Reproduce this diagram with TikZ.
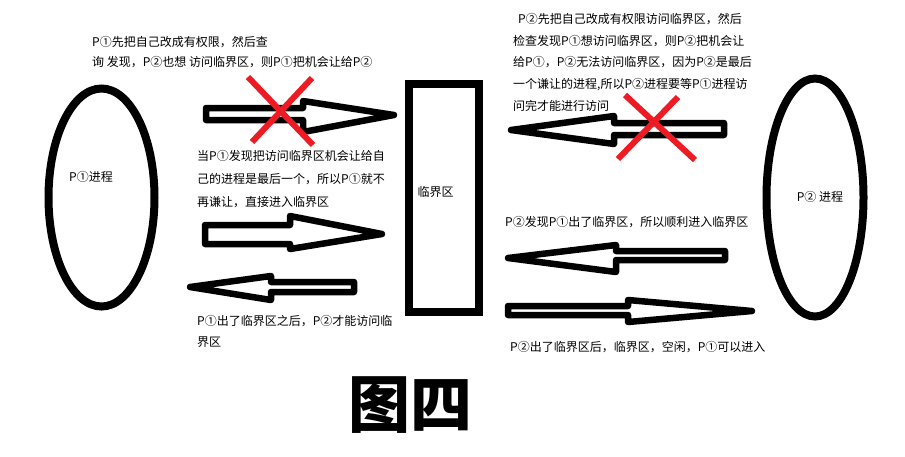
\documentclass[tikz,border=0pt]{standalone}
\usepackage{fontspec}
\usetikzlibrary{shapes.geometric}
\newfontfamily\cjk{Noto Sans CJK SC}
\definecolor{crossred}{RGB}{237,28,36}
\tikzset{
  proc/.style={draw, ellipse, line width=8pt, inner sep=0pt},
  critbox/.style={draw, rectangle, line width=8pt, inner sep=0pt},
  txt/.style={font=\cjk\fontsize{12}{21}\selectfont, inner sep=0pt, align=left},
  blockarrow/.style={line width=6.5pt, line join=round},
  nope/.style={color=crossred, line width=6pt}
}
\begin{document}
\begin{tikzpicture}[x=1pt,y=-1pt]
  \useasboundingbox (0,0) rectangle (905,456);

  \node[proc,minimum width=106pt,minimum height=218pt] (p1) at (101.5,197.5) {};
  \node[proc,minimum width=97pt,minimum height=238pt] (p2) at (815,197.5) {};
  \node[critbox,minimum width=70pt,minimum height=228pt] (cs) at (443.5,197.5) {};
  \node[txt] (p1name) at (91,177) {P①进程};
  \node[txt] (p2name) at (820,197) {P② 进程};
  \node[txt] (csname) at (435.5,192) {临界区};

  % P1 -> cs, crossed out
  \draw (206,108) -- (303,108) -- (303,101) -- (394,115) -- (303,132) -- (303,120) -- (206,120) -- cycle[blockarrow];
  \draw (248,77) -- (313,145)[nope];
  \draw (312,78) -- (252,142)[nope];

  % P2 -> cs, crossed out
  \draw (511,130) -- (614,116) -- (614,123) -- (724,123) -- (724,135) -- (614,135) -- (614,144) -- cycle[blockarrow];
  \draw (625,95) -- (695,160)[nope];
  \draw (678,97) -- (618,159)[nope];

  % P1 enters
  \draw (205,225) -- (290,225) -- (290,216) -- (382,234) -- (290,249) -- (290,244) -- (205,244) -- cycle[blockarrow];
  % P1 leaves
  \draw (190,287) -- (271,276) -- (271,282) -- (354,282) -- (354,292) -- (271,292) -- (271,300) -- cycle[blockarrow];
  % P2 enters
  \draw (508,258) -- (616,245) -- (616,251) -- (725,251) -- (725,260) -- (616,260) -- (616,272) -- cycle[blockarrow];
  % P2 leaves
  \draw (508,306) -- (628,306) -- (628,300) -- (752,311) -- (628,322) -- (628,315) -- (508,315) -- cycle[blockarrow];

  \node[txt,anchor=north west,font=\cjk\fontsize{12}{20}\selectfont] (note1) at (92,36)
    {P①先把自己改成有权限，然后查\\询 发现，P②也想 访问临界区，则P①把机会让给P②};
  \node[txt,anchor=north west,font=\cjk\fontsize{12}{21.75}\selectfont] (note2) at (513,13)
    {\hspace{5pt}P②先把自己改成有权限访问临界区，然后\\检查发现P①想访问临界区，则P②把机会让\\给P①，P②无法访问临界区，因为P②是最后\\一个谦让的进程,所以P②进程要等P①进程访\\问完才能进行访问};
  \node[txt,anchor=north west,font=\cjk\fontsize{12}{23}\selectfont] (note3) at (197,150)
    {当P①发现把访问临界区机会让给自\\己的进程是最后一个，所以P①就不\\再谦让，直接进入临界区};
  \node[txt,anchor=north west] (note4) at (197,315)
    {P①出了临界区之后，P②才能访问临\\界区};
  \node[txt,anchor=west] (note5) at (505,222) {P②发现P①出了临界区，所以顺利进入临界区};
  \node[txt,anchor=west] (note6) at (510,347) {P②出了临界区后，临界区，空闲，P①可以进入};

  \node[font=\cjk\bfseries\fontsize{62}{62}\selectfont, inner sep=0pt] (title) at (410,405) {图四};
\end{tikzpicture}
\end{document}
